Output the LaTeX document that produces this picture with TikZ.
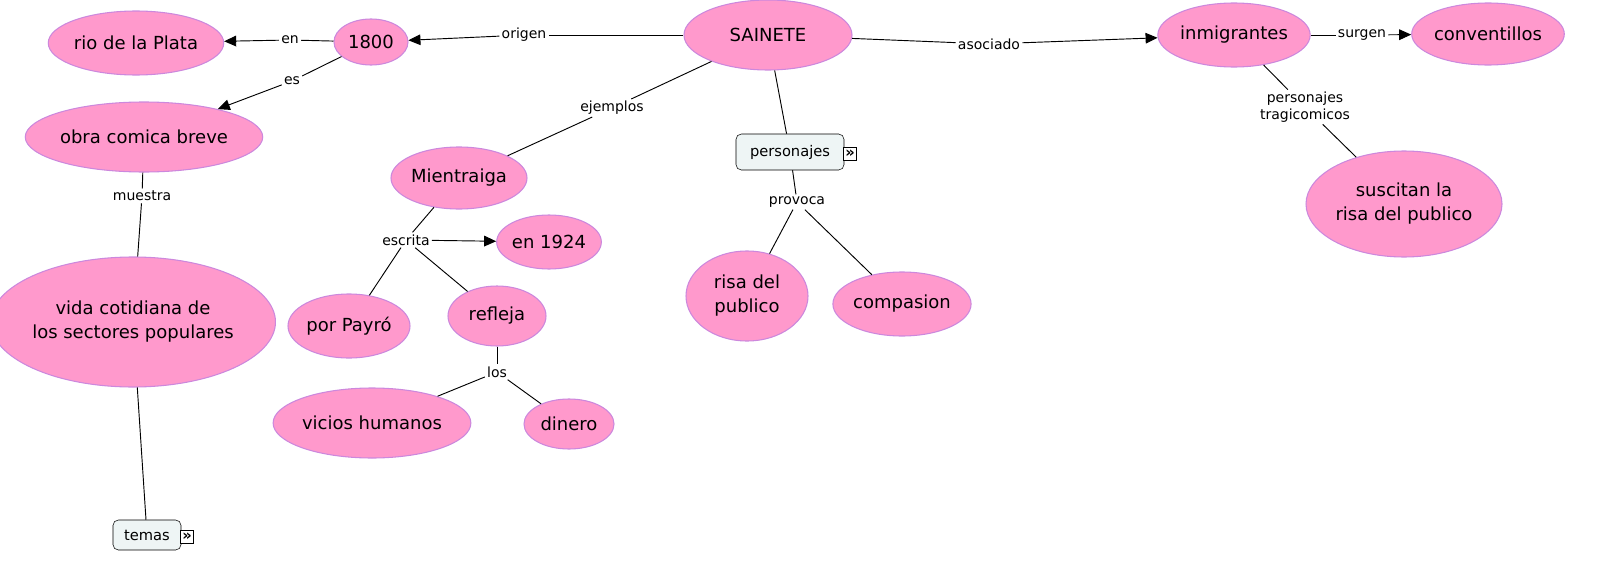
\documentclass[tikz,border=0pt]{standalone}
\usepackage{fontspec}
\setmainfont{DejaVu Sans}
\usetikzlibrary{shapes.geometric,arrows.meta}
\definecolor{pinkf}{HTML}{FF99CC}
\definecolor{pinkd}{HTML}{CC88DD}
\definecolor{boxf}{HTML}{EEF5F5}
\tikzset{
 concept/.style={ellipse,fill=pinkf,draw=pinkd,line width=0.8pt,inner sep=0pt,align=center,font=\fontsize{13.5}{18}\selectfont},
 sz/.style 2 args={minimum width=#1*0.75pt,minimum height=#2*0.75pt},
 lab/.style={fill=white,inner sep=1.5pt,align=center,font=\fontsize{10.5}{12.5}\selectfont},
 tbox/.style={rectangle,rounded corners=4pt,draw=black,fill=boxf,font=\fontsize{11}{13}\selectfont,inner sep=0pt},
 icon/.style={rectangle,draw=black,fill=white,inner sep=0pt,minimum width=10pt,minimum height=10pt,font=\fontsize{11}{11}\selectfont\bfseries},
 ln/.style={draw=black,line width=0.7pt},
 ar/.style={ln,-{Triangle[length=9pt,width=8pt]}}
}
\begin{document}
\begin{tikzpicture}[x=0.75pt,y=-0.75pt]
\useasboundingbox (0,0) rectangle (1600,564);
\node[concept,sz={168}{70}] (sai) at (768,35) {SAINETE};
\node[concept,sz={74}{46}] (m1800) at (371,42) {1800};
\node[concept,sz={164}{64}] (rio) at (136,43) {rio de la Plata};
\node[concept,sz={208}{70}] (obra) at (144,137) {obra comica breve};
\node[concept,sz={264}{130}] (vida) at (133,322) {vida cotidiana de\\los sectores populares};
\node[tbox,sz={68}{30}] (temas) at (147,535) {temas};
\node[icon] at (187,537) {»};
\node[concept,sz={136}{62}] (mien) at (459,178) {Mientraiga};
\node[concept,sz={104}{54}] (e1924) at (549,242) {en 1924};
\node[concept,sz={122}{64}] (payro) at (349,326) {por Payró};
\node[concept,sz={98}{60}] (refl) at (497,316) {refleja};
\node[concept,sz={172}{70}] (vicios) at (372,423) {vicios humanos};
\node[concept,sz={90}{50}] (dinero) at (569,424) {dinero};
\node[tbox,sz={108}{36}] (pers) at (790,152) {personajes};
\node[icon] at (850,154) {»};
\node[concept,sz={122}{90}] (risa) at (747,296) {risa del\\publico};
\node[concept,sz={128}{64}] (comp) at (902,304) {compasion};
\node[concept,sz={144}{64}] (inmi) at (1234,35) {inmigrantes};
\node[concept,sz={128}{62}] (conv) at (1488,34) {conventillos};
\node[concept,sz={196}{106}] (susc) at (1404,204) {suscitan la\\risa del publico};

\node[lab] (lorig) at (524,35) {origen};
\node[lab] (len) at (290,40) {en};
\node[lab] (les) at (292,81) {es};
\node[lab] (lmue) at (142,196) {muestra};
\node[lab] (lejem) at (612,108) {ejemplos};
\node[lab] (lesc) at (406,240) {escrita};
\node[lab] (llos) at (497,372) {los};
\node[lab] (lprov) at (797,202) {provoca};
\node[lab] (laso) at (989,44) {asociado};
\node[lab] (lsur) at (1362,35) {surgen};
\node[lab] (lper) at (1305,107) {personajes\\tragicomicos};

\draw[ln] (sai) -- (lorig); \draw[ar] (lorig) -- (m1800);
\draw[ln] (m1800) -- (len); \draw[ar] (len) -- (rio);
\draw[ln] (m1800) -- (les); \draw[ar] (les) -- (obra);
\draw[ln] (obra) -- (lmue); \draw[ln] (lmue) -- (vida);
\draw[ln] (vida) -- (temas);
\draw[ln] (sai) -- (lejem); \draw[ln] (lejem) -- (mien);
\draw[ln] (mien) -- (lesc); \draw[ar] (lesc) -- (e1924);
\draw[ln] (lesc) -- (payro); \draw[ln] (lesc) -- (refl);
\draw[ln] (refl) -- (llos); \draw[ln] (llos) -- (vicios); \draw[ln] (llos) -- (dinero);
\draw[ln] (sai) -- (pers); \draw[ln] (pers) -- (lprov);
\draw[ln] (lprov) -- (risa); \draw[ln] (lprov) -- (comp);
\draw[ln] (sai) -- (laso); \draw[ar] (laso) -- (inmi);
\draw[ln] (inmi) -- (lsur); \draw[ar] (lsur) -- (conv);
\draw[ln] (inmi) -- (lper); \draw[ln] (lper) -- (susc);
\end{tikzpicture}
\end{document}
